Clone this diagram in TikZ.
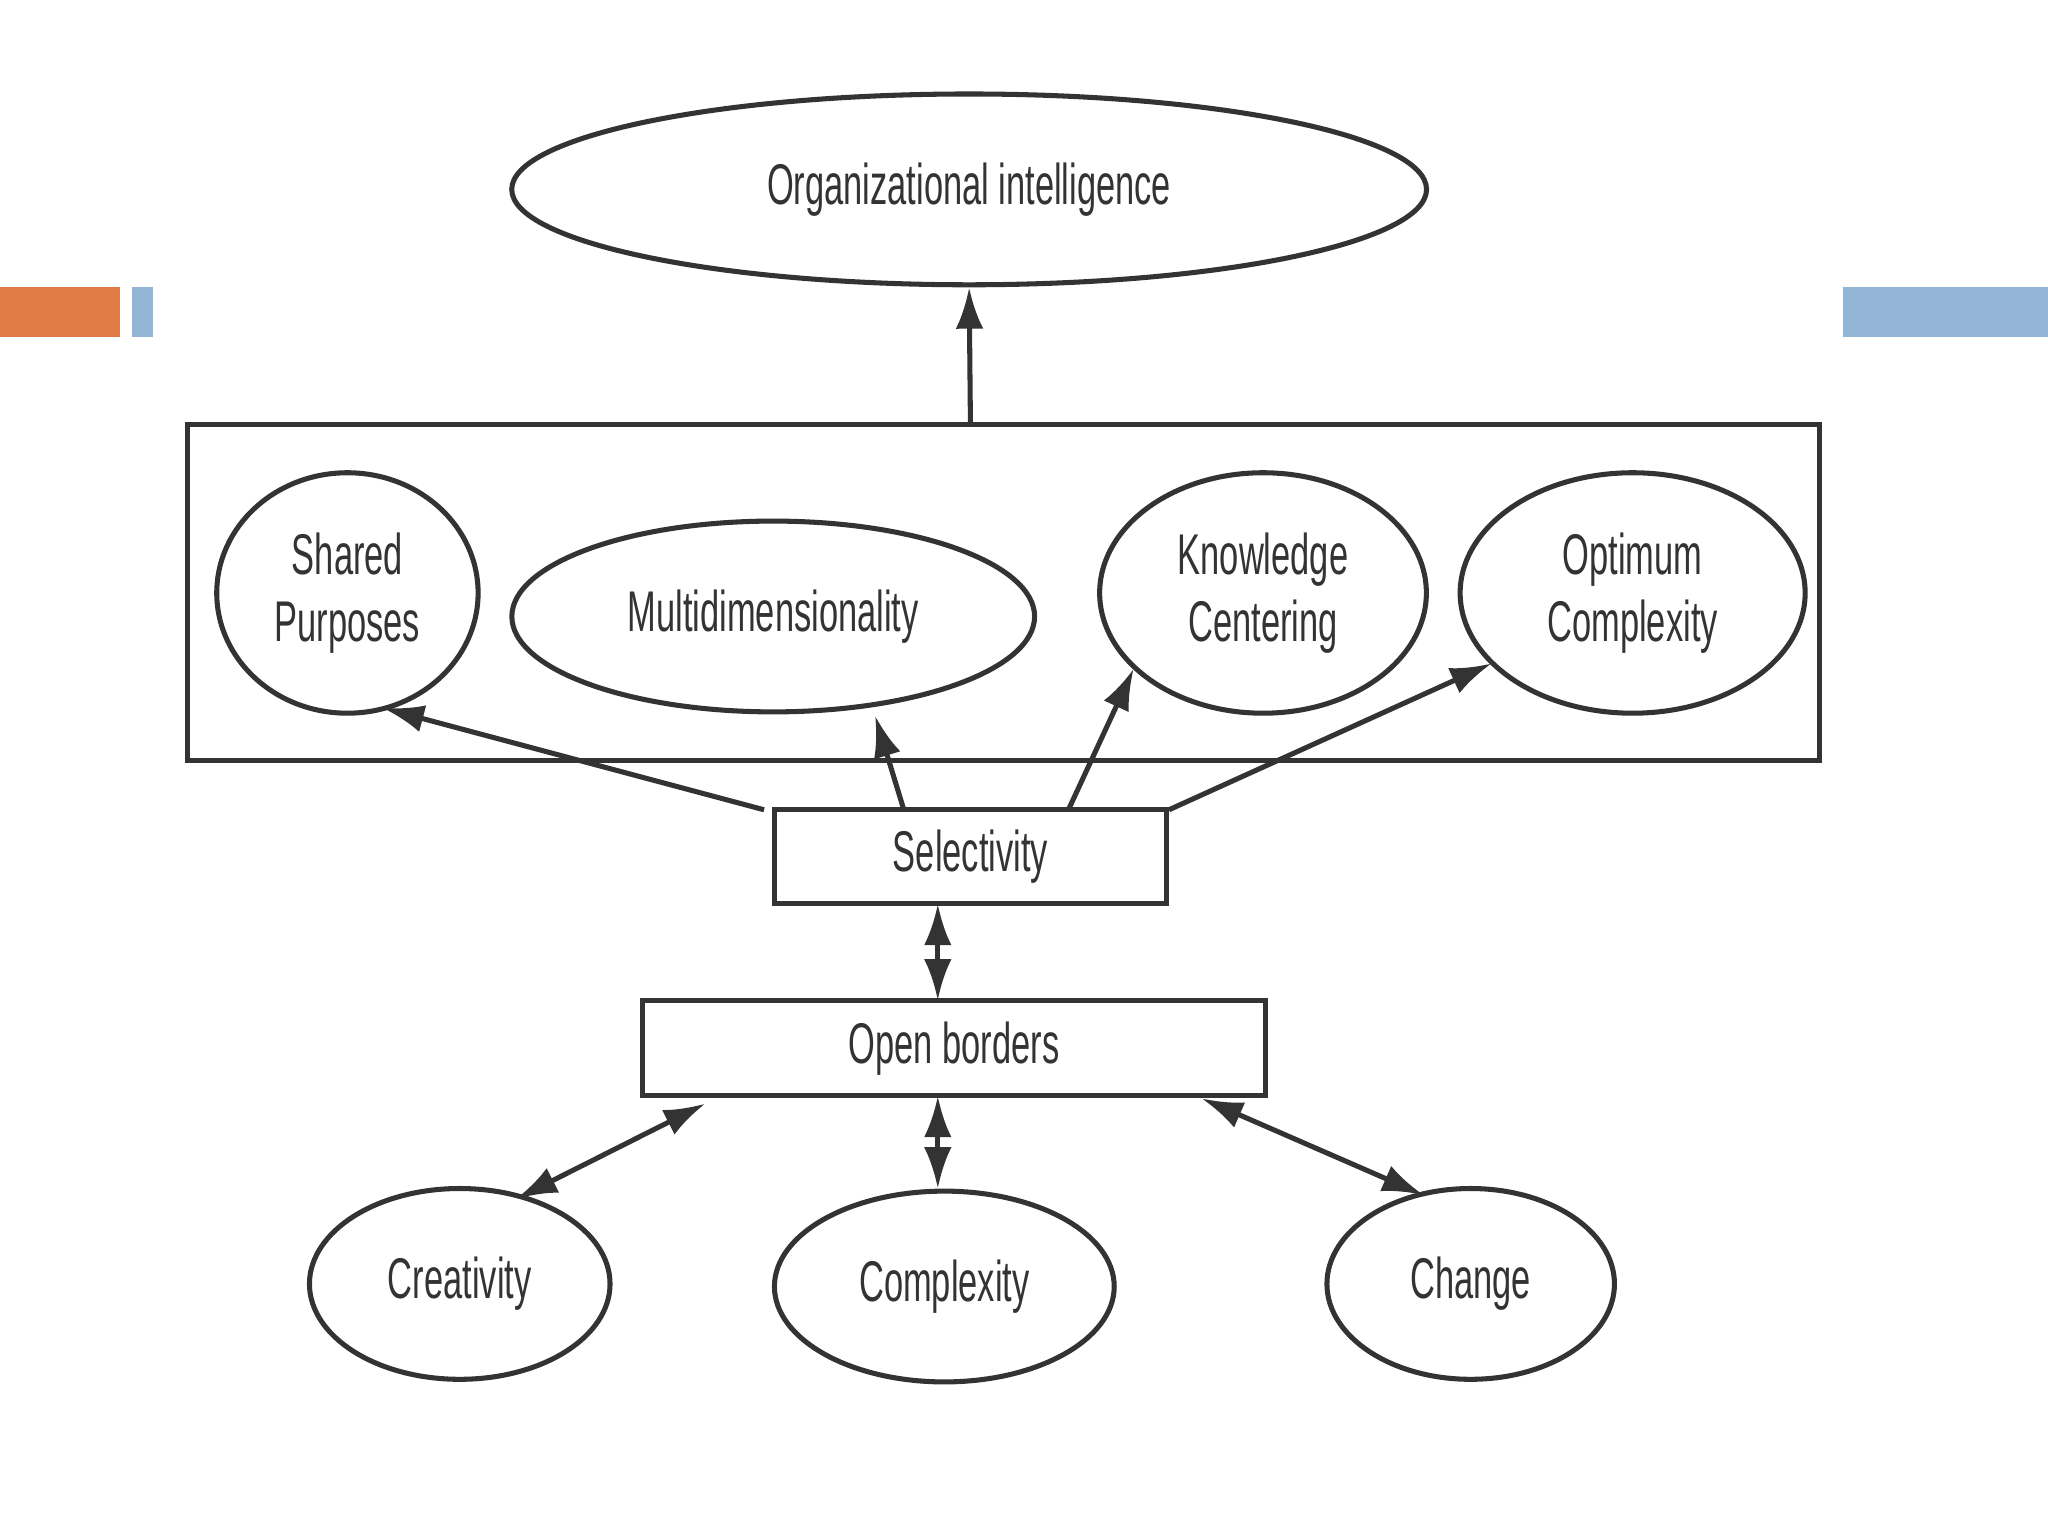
\documentclass[tikz,border=0pt]{standalone}
\usepackage{fontspec}
\newfontfamily\cond[FakeStretch=0.6]{Liberation Sans}
\usetikzlibrary{shapes.geometric,arrows.meta}
\definecolor{orng}{HTML}{E07B45}
\definecolor{blu}{HTML}{93B5D5}
\begin{document}
\begin{tikzpicture}[x=0.01cm,y=-0.01cm,
  ln/.style={draw=black!80,line width=1.1pt},
  el/.style={ln,ellipse,inner sep=0pt,font=\cond\fontsize{12.5}{14.5}\selectfont,text=black!80,align=center},
  bx/.style={ln,rectangle,inner sep=0pt,font=\cond\fontsize{12.5}{14.5}\selectfont,text=black!80},
  ar/.style={ln,-{Latex[length=9pt,width=6pt]}},
  dar/.style={ln,{Latex[length=9pt,width=6pt]}-{Latex[length=9pt,width=6pt]}}]
\useasboundingbox (0,0) rectangle (1568,1176);
\fill[white] (0,0) rectangle (1568,1176);
\fill[orng] (0,220) rectangle (92,258);
\fill[blu] (101,220) rectangle (117,258);
\fill[blu] (1411,220) rectangle (1568,258);
\node[el,minimum width=7cm,minimum height=1.46cm] (oi) at (742,145) {Organizational intelligence};
\node[bx,minimum width=12.49cm,minimum height=2.57cm] (big) at (768.5,453.5) {};
\node[el,minimum width=2cm,minimum height=1.84cm] (sp) at (266,454) {Shared\\Purposes};
\node[el,minimum width=4cm,minimum height=1.46cm] (md) at (592,472) {Multidimensionality};
\node[el,minimum width=2.5cm,minimum height=1.84cm] (kc) at (967,454) {Knowledge\\Centering};
\node[el,minimum width=2.64cm,minimum height=1.84cm] (oc) at (1250,454) {Optimum\\Complexity};
\node[bx,minimum width=3cm,minimum height=0.72cm] (sel) at (743,656) {Selectivity};
\node[bx,minimum width=4.77cm,minimum height=0.73cm] (ob) at (730.5,802.5) {Open borders};
\node[el,minimum width=2.3cm,minimum height=1.46cm] (cr) at (352,983) {Creativity};
\node[el,minimum width=2.6cm,minimum height=1.46cm] (cx) at (723,985) {Complexity};
\node[el,minimum width=2.2cm,minimum height=1.46cm] (ch) at (1126,983) {Change};
\coordinate (b1) at (743,325);
\draw[ar] (b1) -- (oi.south);
\coordinate (s1) at (585,620); \coordinate (s2) at (692,620);
\coordinate (s3) at (818,620); \coordinate (s4) at (895,620);
\coordinate (t1) at (293,542); \coordinate (t2) at (670,548);
\coordinate (t3) at (868,512); \coordinate (t4) at (1142,508);
\draw[ar] (s1) -- (t1);
\draw[ar] (s2) -- (t2);
\draw[ar] (s3) -- (t3);
\draw[ar] (s4) -- (t4);
\coordinate (sb) at (718,692); \coordinate (ot) at (718,766);
\draw[dar] (sb) -- (ot);
\coordinate (o1) at (540,845); \coordinate (c1) at (395,918);
\coordinate (o2) at (718,839); \coordinate (c2) at (718,910);
\coordinate (o3) at (920,841); \coordinate (c3) at (1090,915);
\draw[dar] (o1) -- (c1);
\draw[dar] (o2) -- (c2);
\draw[dar] (o3) -- (c3);
\end{tikzpicture}
\end{document}
